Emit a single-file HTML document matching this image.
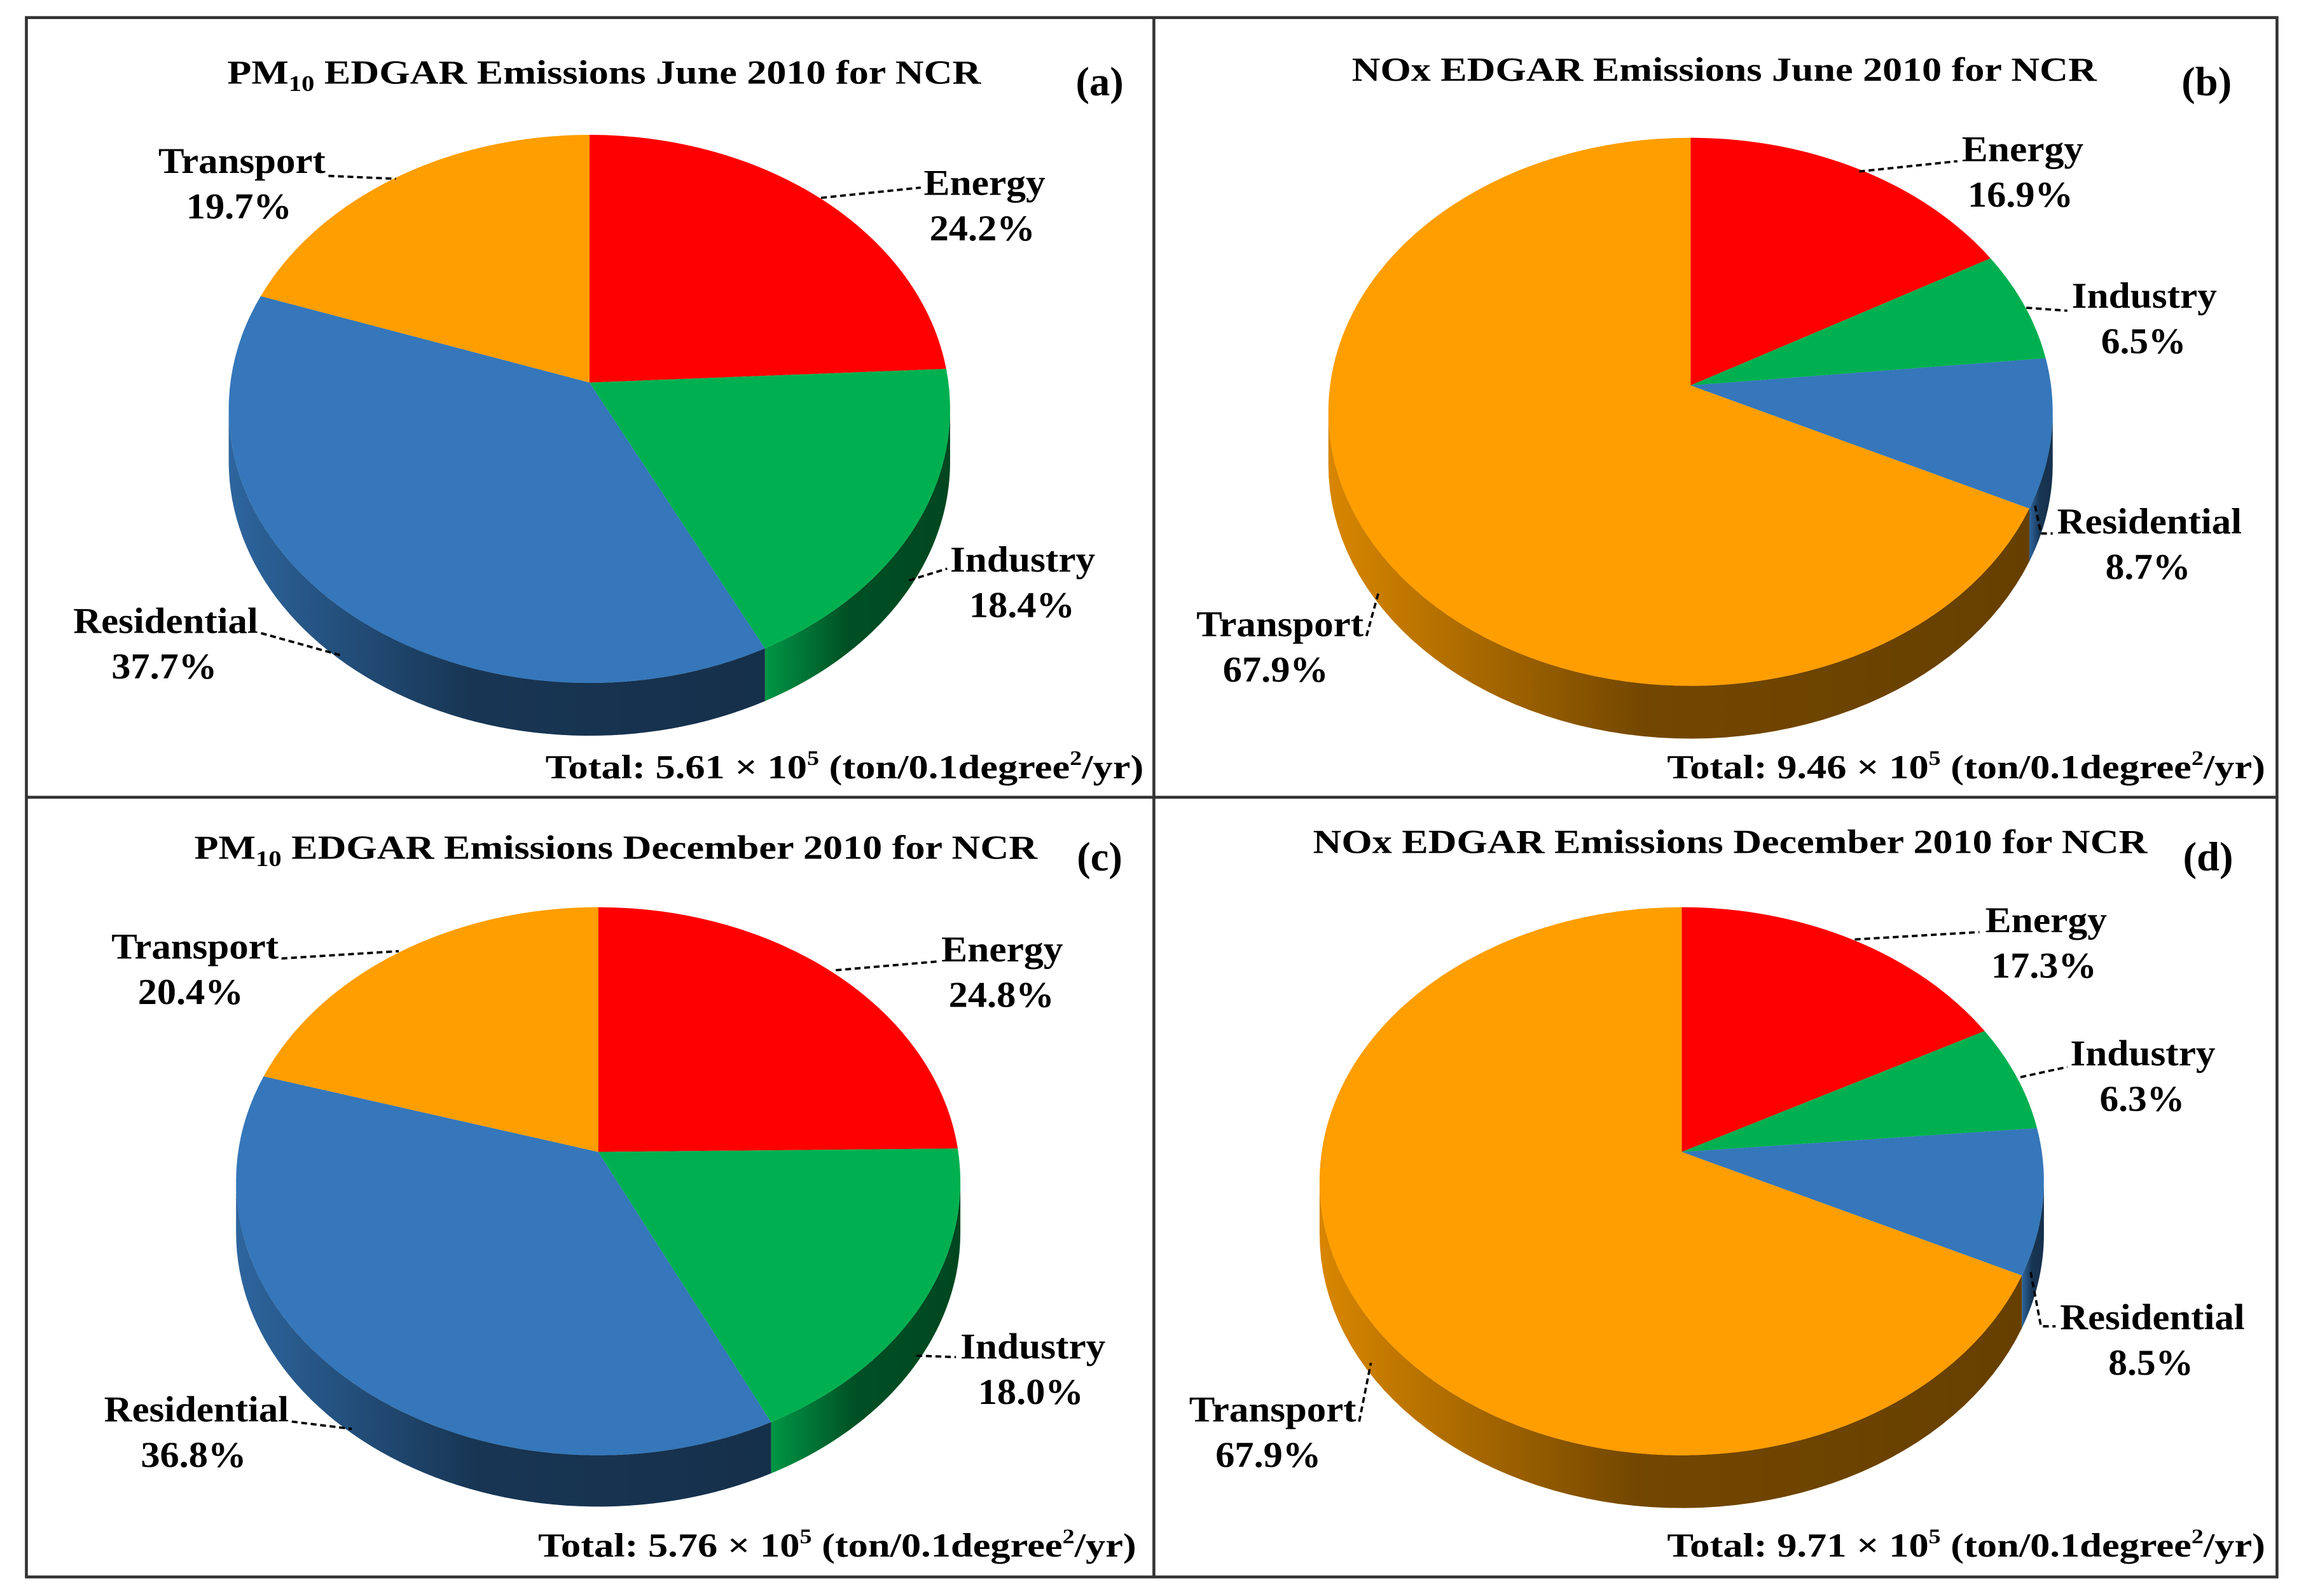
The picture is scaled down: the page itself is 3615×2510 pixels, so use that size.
<!DOCTYPE html>
<html><head><meta charset="utf-8"><style>
html,body{margin:0;padding:0;background:#fff}
svg{display:block}
text{font-family:"Liberation Serif",serif;font-weight:bold;fill:#000}
</style></head><body>
<svg id="fig" xmlns="http://www.w3.org/2000/svg" width="3615" height="2510" viewBox="0 0 1568 1089" preserveAspectRatio="none">
<defs>
<linearGradient id="gside" x1="0" x2="1" y1="0" y2="0">
<stop offset="0" stop-color="#000" stop-opacity="0.15"/>
<stop offset="0.45" stop-color="#000" stop-opacity="0.55"/>
<stop offset="1" stop-color="#000" stop-opacity="0.6"/>
</linearGradient>
</defs>
<rect x="0" y="0" width="1568" height="1089" fill="#fff"/>
<g fill="none" stroke="#333" stroke-width="2">
<rect x="18" y="12" width="1535" height="1064"/>
<line x1="787" y1="12" x2="787" y2="1076"/>
<line x1="18" y1="544" x2="1553" y2="544"/>
</g>
<g id="pies"></g>
<g id="labels"></g>
</svg>
<script>
const categories = ["Energy","Industry","Residential","Transport"];
const valuesA = [24.2, 18.4, 37.7, 19.7];
const valuesB = [16.9, 6.5, 8.7, 67.9];
const valuesC = [24.8, 18.0, 36.8, 20.4];
const valuesD = [17.3, 6.3, 8.5, 67.9];
const totals = ["5.61","9.46","5.76","9.71"];
const colors = ["#FF0000","#00B050","#3577BA","#FF9E00"];

const NS="http://www.w3.org/2000/svg";
const pies=document.getElementById('pies');
const labs=document.getElementById('labels');
function el(tag,attrs,parent){const e=document.createElementNS(NS,tag);for(const k in attrs)e.setAttribute(k,attrs[k]);(parent||pies).appendChild(e);return e;}

const panels=[
 {id:'a',vals:valuesA,cx:402,ay:261,cy:279,rx:246,ry:187,d:36},
 {id:'b',vals:valuesB,cx:1153,ay:263,cy:281,rx:247,ry:187,d:36},
 {id:'c',vals:valuesC,cx:408,ay:786,cy:806,rx:247,ry:187,d:35},
 {id:'d',vals:valuesD,cx:1147,ay:786,cy:806,rx:247,ry:187,d:36}
];
function pt(p,t,dy){return [p.cx+p.rx*Math.sin(t), p.cy-p.ry*Math.cos(t)+(dy||0)];}
// ray from apex at compressed angle, intersected with ellipse
function rayPt(p,t){
 const k=0.76;
 const dx=Math.sin(t), dy=-Math.cos(t)*k;
 const ox=0, oy=p.ay-p.cy;
 const A=dx*dx/(p.rx*p.rx)+dy*dy/(p.ry*p.ry);
 const B=2*(ox*dx/(p.rx*p.rx)+oy*dy/(p.ry*p.ry));
 const C=ox*ox/(p.rx*p.rx)+oy*oy/(p.ry*p.ry)-1;
 const s=(-B+Math.sqrt(B*B-4*A*C))/(2*A);
 return [p.cx+s*dx, p.ay+s*dy];
}
function ellAng(p,q){return Math.atan2((q[0]-p.cx)/p.rx, -(q[1]-p.cy)/p.ry);}
function norm(a){while(a<0)a+=2*Math.PI;while(a>2*Math.PI)a-=2*Math.PI;return a;}

panels.forEach(p=>{
 const g=el('g',{});
 
 
 const tot=p.vals.reduce((a,b)=>a+b,0);
 let start=0;
 const arcs=[];
 p.vals.forEach((v,i)=>{const end=start+v/tot*2*Math.PI;
   const q0=rayPt(p,start), q1=rayPt(p,end);
   let e0=norm(ellAng(p,q0)), e1=norm(ellAng(p,q1));
   if(i===0)e0=0; if(i===p.vals.length-1)e1=2*Math.PI;
   if(e1<e0)e1+=2*Math.PI;
   arcs.push([e0,e1]);start=end;});
 arcs.forEach(([s,e],i)=>{
  const a0=Math.max(s,Math.PI/2), a1=Math.min(e,3*Math.PI/2);
  if(a1<=a0)return;
  let d='';const N=60;
  for(let k=0;k<=N;k++){const t=a0+(a1-a0)*k/N;const q=pt(p,t);d+=(k?'L':'M')+q[0].toFixed(2)+' '+q[1].toFixed(2);}
  for(let k=N;k>=0;k--){const t=a0+(a1-a0)*k/N;const q=pt(p,t,p.d);d+='L'+q[0].toFixed(2)+' '+q[1].toFixed(2);}
  d+='Z';
  const s1=el('path',{d:d,fill:colors[i]},g);
  
  
  const s2=el('path',{d:d,fill:'url(#gside)'},g);
  
  
 });
 arcs.forEach(([s,e],i)=>{
  const q0=pt(p,s),q1=pt(p,e);
  const large=(e-s)>Math.PI?1:0;
  const d='M'+p.cx+' '+p.ay+'L'+q0[0]+' '+q0[1]+'A'+p.rx+' '+p.ry+' 0 '+large+' 1 '+q1[0]+' '+q1[1]+'Z';
  const w=el('path',{d:d,fill:colors[i]},g);
  
  
 });
});

function txt(x,y,s,size,anchor,len,name){
 const t=el('text',{x:x,y:y,'font-size':size,'text-anchor':anchor},labs);
 if(len){t.setAttribute('textLength',len);t.setAttribute('lengthAdjust','spacingAndGlyphs');}
 t.textContent=s;
 
 
 return t;
}
function lead(pts,name){
 const l=el('polyline',{points:pts,fill:'none',stroke:'#000','stroke-width':1.6,'stroke-dasharray':'4 2.5'},labs);
 
 
}
function title(x,y,pre,sub,post,len,name){
 const t=el('text',{x:x,y:y,'font-size':23,'text-anchor':'middle',textLength:len,lengthAdjust:'spacingAndGlyphs'},labs);
 
 
 t.appendChild(document.createTextNode(pre));
 if(sub){const s=el('tspan',{'font-size':15,dy:5},t);s.textContent=sub;const r=el('tspan',{dy:-5},t);r.textContent=post;}
 return t;
}
function total(xEnd,y,val,len,name){
 const t=el('text',{x:xEnd,y:y,'font-size':23,'text-anchor':'end',textLength:len,lengthAdjust:'spacingAndGlyphs'},labs);
 
 
 t.appendChild(document.createTextNode('Total: '+val+' × 10'));
 const s1=el('tspan',{'font-size':14,dy:-9},t);s1.textContent='5';
 const s2=el('tspan',{dy:9},t);s2.textContent=' (ton/0.1degree';
 const s3=el('tspan',{'font-size':14,dy:-9},t);s3.textContent='2';
 const s4=el('tspan',{dy:9},t);s4.textContent='/yr)';
}
function lbl(x,y,name,val,anchor,cx,nl,vl,key){
 txt(x,y,name,25,anchor,nl,'label-'+key);
 txt(cx,y+31,val.toFixed(1)+'%',25,'middle',vl,'value-'+key);
}

title(412,57,'PM','10',' EDGAR Emissions June 2010 for NCR',514,'title-a');
txt(750,65,'(a)',28,'middle',null,'panel-label-a');
lbl(222,118,categories[3],valuesA[3],'end',163,114,72,'transport-a');
lbl(630,133,categories[0],valuesA[0],'start',670,83,72,'energy-a');
lbl(648,390,categories[1],valuesA[1],'start',697,99,72,'industry-a');
lbl(176,432,categories[2],valuesA[2],'end',112,126,72,'residential-a');
lead('224,120 270,122','leader-transport-a');
lead('560,135 628,128','leader-energy-a');
lead('620,396 646,388','leader-industry-a');
lead('178,432 232,447','leader-residential-a');
total(780,531,totals[0],408,'total-a');

title(1176,55,'NOx EDGAR Emissions June 2010 for NCR','','',508,'title-b');
txt(1505,65,'(b)',28,'middle',null,'panel-label-b');
lbl(1338,110,categories[0],valuesB[0],'start',1378,83,72,'energy-b');
lbl(1413,210,categories[1],valuesB[1],'start',1462,99,58,'industry-b');
lbl(1403,364,categories[2],valuesB[2],'start',1465,126,58,'residential-b');
lbl(930,434,categories[3],valuesB[3],'end',870,114,72,'transport-b');
lead('1268,117 1335,110','leader-energy-b');
lead('1382,210 1410,212','leader-industry-b');
lead('1388,345 1392,364 1400,364','leader-residential-b');
lead('932,434 940,405','leader-transport-b');
total(1545,531,totals[1],408,'total-b');

title(420,586,'PM','10',' EDGAR Emissions December 2010 for NCR',575,'title-c');
txt(750,594,'(c)',28,'middle',null,'panel-label-c');
lbl(190,654,categories[3],valuesC[3],'end',130,114,72,'transport-c');
lbl(642,656,categories[0],valuesC[0],'start',683,83,72,'energy-c');
lbl(655,927,categories[1],valuesC[1],'start',703,99,72,'industry-c');
lbl(197,970,categories[2],valuesC[2],'end',132,126,72,'residential-c');
lead('192,654 272,649','leader-transport-c');
lead('570,662 640,656','leader-energy-c');
lead('625,925 652,926','leader-industry-c');
lead('199,970 240,975','leader-residential-c');
total(775,1062,totals[2],408,'total-c');

title(1180,582,'NOx EDGAR Emissions December 2010 for NCR','','',569,'title-d');
txt(1506,594,'(d)',28,'middle',null,'panel-label-d');
lbl(1354,636,categories[0],valuesD[0],'start',1394,83,72,'energy-d');
lbl(1412,727,categories[1],valuesD[1],'start',1461,99,58,'industry-d');
lbl(1405,907,categories[2],valuesD[2],'start',1467,126,58,'residential-d');
lbl(925,970,categories[3],valuesD[3],'end',865,114,72,'transport-d');
lead('1265,641 1350,636','leader-energy-d');
lead('1378,735 1410,728','leader-industry-d');
lead('1385,868 1392,905 1402,905','leader-residential-d');
lead('927,970 935,930','leader-transport-d');
total(1545,1062,totals[3],408,'total-d');
</script>
</body></html>
